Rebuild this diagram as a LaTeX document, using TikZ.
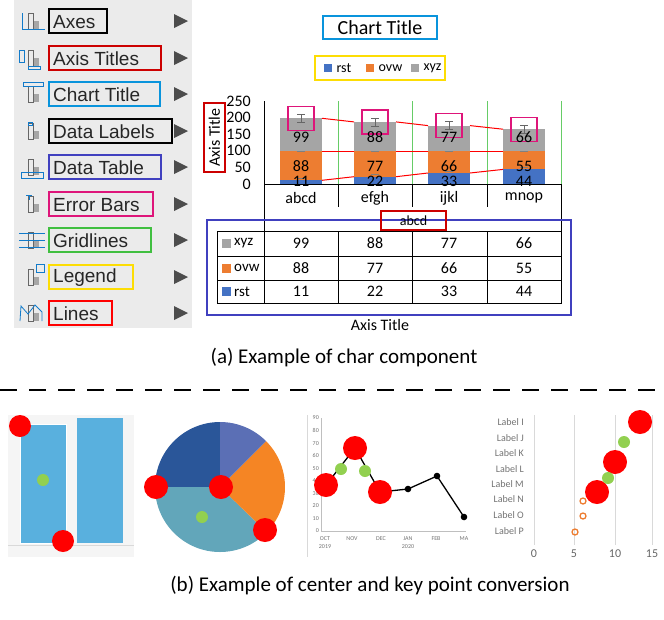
\documentclass[tikz,border=0pt]{standalone}
\usepackage{fontspec}
\setmainfont{Carlito}
\newfontfamily\menufont{Liberation Sans}
\begin{document}
\begin{tikzpicture}[x=1pt,y=-1pt,
 menubox/.style={draw=#1,line width=1.2pt},
 menutext/.style={anchor=west,inner sep=0,font=\menufont\fontsize{19}{19}\selectfont,text=black!85},
 tri/.style={fill=black!70,draw=none},
 tv/.style={font=\fontsize{16}{16}\selectfont},
 pink/.style={draw=magenta!70!purple,line width=1.2pt},
 tiny/.style={font=\fontsize{6}{6}\selectfont,text=black!55},
 icon/.style={draw=black!60,line width=0.8pt},
 iconb/.style={draw=cyan!60!blue,line width=0.8pt},
 series/.style={draw=red,line width=1pt},
]
\useasboundingbox (0,0) rectangle (664,619);
\definecolor{cblue}{HTML}{4472C4}\definecolor{corange}{HTML}{ED7D31}\definecolor{cgray}{HTML}{A5A5A5}
\definecolor{ggreen}{HTML}{92D050}
% ===== menu =====
\fill[black!8] (14,0) rectangle (192,328);
\foreach \y/\t/\c/\w [count=\i] in {21/Axes/black/58,58/Axis Titles/red!80!black/112,94/Chart Title/cyan!80!blue/111,131/Data Labels/black/123,167/Data Table/blue!50!gray/112,204/Error Bars/magenta!70!purple/104,240/Gridlines/green!50!gray/102,277/Legend/yellow!80!orange/84,313/Lines/red/63}{
 \draw[menubox=\c] (49,\y-12) rectangle (49+\w,\y+12);
 \node[menutext] (m\i) at (53,\y+1) {\t};
 \fill[tri] (174,\y-7) -- (188,\y) -- (174,\y+7) -- cycle;
 \draw[icon] (28,\y-8) rectangle (33,\y+8);
 \fill[black!35] (34,\y) rectangle (39,\y+8);
}
\draw[iconb] (22,13) -- (22,29) -- (45,29);
\draw[iconb] (19,50) rectangle (24,62); \draw[iconb] (28,66) rectangle (40,69);
\draw[iconb] (23,82) rectangle (43,86);
\draw[iconb] (28,122) rectangle (32,125);
\draw[iconb] (21,172) rectangle (43,178);
\draw[iconb] (29,195) -- (29,200) (26,195)--(32,195);
\draw[iconb] (19,233)--(45,233) (19,240)--(45,240) (19,247)--(45,247);
\draw[iconb] (36,264) rectangle (44,272);
\draw[iconb] (20,321) -- (21,306) -- (28,314) -- (35,305) -- (42,312) -- (42,321);
% ===== chart =====
\node[draw=cyan!80!blue,line width=1.2pt,font=\fontsize{20}{20}\selectfont,minimum width=114pt,minimum height=23pt,inner sep=0] (ct) at (380,27.5) {Chart Title};
\node[draw=yellow!80!orange,line width=1.2pt,minimum width=130pt,minimum height=24pt] (lg) at (380,68) {};
\fill[cblue] (324,64) rectangle (332,72); \node[anchor=west,font=\fontsize{14}{14}\selectfont] (l1) at (333,68) {rst};
\fill[corange] (366,64) rectangle (374,72); \node[anchor=west,font=\fontsize{14}{14}\selectfont] (l2) at (375,68) {ovw};
\fill[cgray] (411,64) rectangle (419,72); \node[anchor=west,font=\fontsize{14}{14}\selectfont] (l3) at (420,68) {xyz};
\node[draw=red!80!black,line width=1.2pt,rotate=90,minimum width=69pt,minimum height=21pt,inner sep=0,tv] (at) at (214.5,137.5) {Axis Title};
\foreach \v/\yy in {250/101,200/117.6,150/134.2,100/150.8,50/167.4,0/184}{\node[anchor=east,tv,inner sep=0] at (251,\yy) {\v};}
\foreach \x in {338,412,487,561}{\draw[green!50!gray!80,line width=0.8pt] (\x,101) -- (\x,184);}
% bars
\foreach \c/\a/\b/\t [count=\i] in {301/180.3/118.3/11,375/176.7/121.9/22,449/173.0/125.6/33,524/169.4/129.2/44}{
 \fill[cblue] (\c-21,184) rectangle (\c+21,\a);
 \fill[corange] (\c-21,\a) rectangle (\c+21,151.1);
 \fill[cgray] (\c-21,151.1) rectangle (\c+21,\b);
 \draw[black!60,line width=0.7pt] (\c-4,\b-4) -- (\c+4,\b-4) (\c,\b-4)--(\c,\b+4) (\c-4,\b+4)--(\c+4,\b+4);
 \draw[black!50,line width=0.7pt] (\c-4,151.1) -- (\c+4,151.1) (\c-4,\a-2)--(\c+4,\a-2);
 \draw[pink] (\c-13,\b-12) rectangle (\c+13,\b+12);
}
\foreach \c/\v in {301/11,375/22,449/33,524/44}{\node[tv,inner sep=0] at (\c,181) {\v};}
\foreach \c/\v in {301/88,375/77,449/66,524/55}{\node[tv,inner sep=0] at (\c,166) {\v};}
\foreach \c/\v in {301/99,375/88,449/77,524/66}{\node[tv,inner sep=0] at (\c,137) {\v};}
\draw[series] (322,118.3)--(354,121.9) (396,121.9)--(428,125.6) (470,125.6)--(503,129.2);
\draw[series] (322,151.1)--(354,151.1) (396,151.1)--(428,151.1) (470,151.1)--(503,151.1);
\draw[series] (322,180.3)--(354,176.7) (396,176.7)--(428,173.0) (470,173.0)--(503,169.4);
\draw[black,line width=0.9pt] (264,101) -- (264,303);
\draw[black,line width=0.9pt] (264,184) -- (561,184) -- (561,231);
\foreach \x in {338,412,487}{\draw[black,line width=0.9pt] (\x,184)--(\x,207);}
\foreach \c/\t in {301/abcd,375/efgh,449/ijkl,524/mnop}{\node[tv,inner sep=0] at (\c,198) {\t};}
% data table
\draw[blue!50!gray,line width=1.2pt] (207,220) rectangle (571,315);
\node[draw=red!80!black,line width=1.2pt,minimum width=65pt,minimum height=19pt,inner sep=0,font=\fontsize{14}{14}\selectfont] (cat) at (413.5,220.5) {abcd};
\draw[black,line width=0.9pt] (217,231) rectangle (561,303);
\draw[black,line width=0.9pt] (217,256)--(561,256) (217,280)--(561,280);
\foreach \x in {264,338,412,487}{\draw[black,line width=0.9pt] (\x,231)--(\x,303);}
\foreach \y/\cc/\n/\a/\b/\cv/\d in {243.5/cgray/xyz/99/88/77/66,268/corange/ovw/88/77/66/55,291.5/cblue/rst/11/22/33/44}{
 \fill[\cc] (222,\y-4.5) rectangle (231,\y+4.5);
 \node[anchor=west,font=\fontsize{15}{15}\selectfont,inner sep=0] at (234,\y) {\n};
 \node[tv] at (301,\y) {\a}; \node[tv] at (375,\y) {\b}; \node[tv] at (449,\y) {\cv}; \node[tv] at (524,\y) {\d};
}
\node[tv] (axt) at (380,325) {Axis Title};
\node[font=\fontsize{21}{21}\selectfont] (capa) at (344,358) {(a) Example of char component};
\draw[black,line width=2.5pt,dash pattern=on 17pt off 12pt] (0,390) -- (664,390);
% ===== bottom =====
\fill[black!4] (8,415) rectangle (134,557);
\draw[black!15] (8,545) -- (134,545);
\fill[cblue!70!cyan!80] (20,424) rectangle (66,543);
\fill[cblue!70!cyan!80] (77,418) rectangle (123,543);
\draw[white,line width=0.8pt] (20,424) rectangle (66,543);
\fill[red] (20,426) circle (11); \fill[red] (63,541) circle (11);
\fill[ggreen] (43,480) circle (6);
% pie
\definecolor{p1}{HTML}{2A5699}\definecolor{p2}{HTML}{62A6BA}\definecolor{p3}{HTML}{F58524}\definecolor{p4}{HTML}{5B6FB5}
\fill[p1] (220,487) -- ++(-90:65) arc[start angle=-90,end angle=-180,radius=65] -- cycle;
\fill[p2] (220,487) -- ++(-180:65) arc[start angle=-180,end angle=-316,radius=65] -- cycle;
\fill[p3] (220,487) -- ++(-316:65) arc[start angle=-316,end angle=-405,radius=65] -- cycle;
\fill[p4] (220,487) -- ++(-45:65) arc[start angle=-45,end angle=-90,radius=65] -- cycle;
\fill[red] (156,487) circle (12); \fill[red] (221,487) circle (12); \fill[red] (265,530) circle (12);
\fill[ggreen] (202,517) circle (6);
% line chart
\draw[black!15] (307,415) -- (307,557);
\draw[black!25,line width=0.4pt] (321,418) -- (321,531) -- (466,531);
\foreach \v in {0,10,...,90}{\node[tiny,anchor=east,inner sep=0] at (319,531-\v*1.256) {\v};}
\foreach \x/\m in {325/OCT,352/NOV,381/DEC,408/JAN,436/FEB,464/MA}{\node[tiny] at (\x,539) {\m};}
\node[tiny] at (325,547) {2019}; \node[tiny] at (408,547) {2020};
\draw[black,line width=1.3pt] (326,485) -- (355,448) -- (380,492) -- (408,489) -- (437,476) -- (464,517);
\foreach \p in {(408,489),(437,476),(464,517)}{\fill[black] \p circle (3.3);}
\fill[ggreen] (341,469) circle (6); \fill[ggreen] (365,471) circle (6);
\fill[red] (326,485) circle (12); \fill[red] (355,448) circle (12); \fill[red] (380,492) circle (12);
% dot chart
\foreach \x/\v in {534/0,574/5,615/10,652/15}{\draw[black!15] (\x,415) -- (\x,545); \node[font=\fontsize{12}{12}\selectfont,text=black!60] at (\x,554) {\v};}
\foreach \y/\l in {422/I,438/J,453/K,469/L,484/M,499/N,515/O,531/P}{\node[anchor=east,font=\fontsize{10}{10}\selectfont,text=black!55,inner sep=0] at (524,\y) {Label \l};}
\fill[red] (640,422) circle (12); \fill[red] (615,462) circle (12); \fill[red] (597,492) circle (12);
\fill[ggreen] (624,442) circle (6); \fill[ggreen] (608,478) circle (6);
\foreach \p in {(583,501),(583,516),(575,532)}{\draw[corange,line width=1.3pt] \p circle (3);}
\node[font=\fontsize{21}{21}\selectfont] (capb) at (370,586) {(b) Example of center and key point conversion};
\end{tikzpicture}
\end{document}
